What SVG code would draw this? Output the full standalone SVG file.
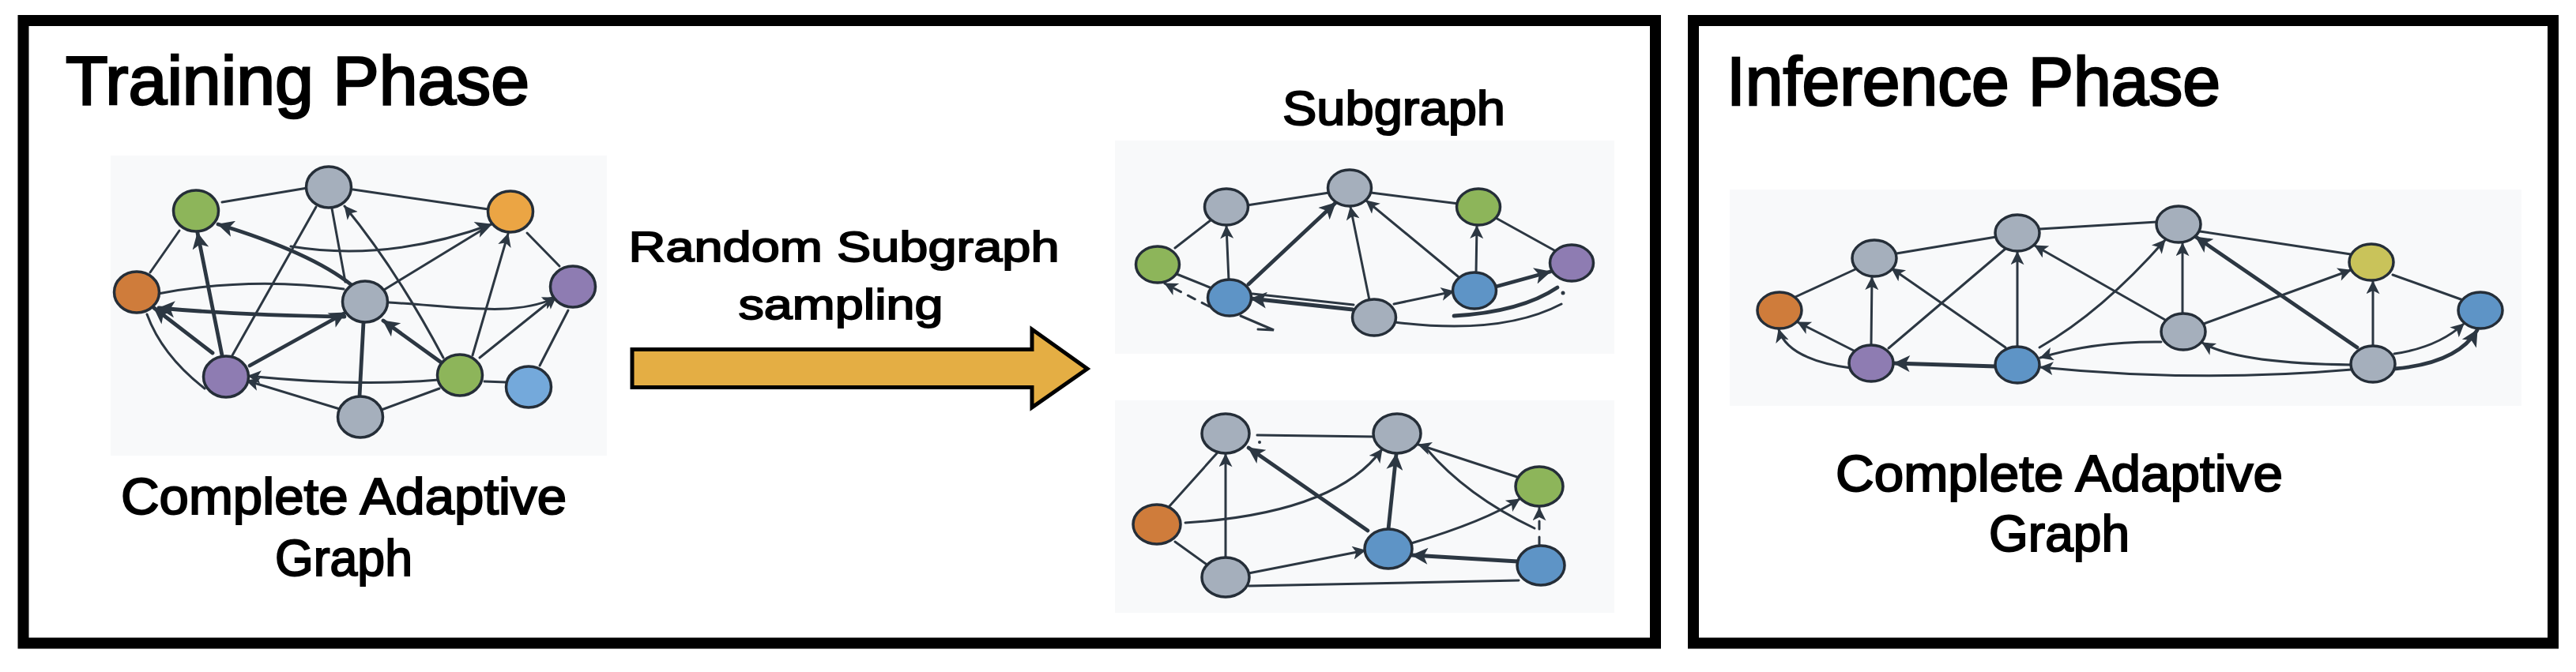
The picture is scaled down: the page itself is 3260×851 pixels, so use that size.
<svg xmlns="http://www.w3.org/2000/svg" width="3260" height="851" viewBox="0 0 3260 851">
<defs>
<style>
.frame{fill:#ffffff;stroke:#000000;stroke-width:14}
.bg{fill:#F8F9FA}
.n{stroke:#252E38;stroke-width:3.5}
.gray{fill:#A5AFBC}
.green{fill:#8DB55A}
.orange{fill:#EBA544}
.brown{fill:#CF7C3B}
.purple{fill:#8E7CB2}
.lblue{fill:#74A9DB}
.blue{fill:#5E94C6}
.yellow{fill:#C9C35A}
.e{fill:none;stroke:#2C3742;stroke-width:3;stroke-linecap:round}
.t{stroke-width:4.8}
.d{stroke-dasharray:10 10}
.a{marker-end:url(#ah)}
.A{marker-end:url(#ahL)}
.txt{font-family:"Liberation Sans",Arial,sans-serif;fill:#000;stroke:#000}
.h1{stroke-width:2.6}
.h2{stroke-width:2}
.h3{stroke-width:1.8}
</style>
<marker id="ah" viewBox="0 0 10 10" refX="9.5" refY="5" markerWidth="21" markerHeight="17" markerUnits="userSpaceOnUse" orient="auto"><path d="M0,0 L10,5 L0,10 L2.5,5 z" fill="#2C3742"/></marker>
<marker id="ahL" viewBox="0 0 10 10" refX="9.5" refY="5" markerWidth="26" markerHeight="21" markerUnits="userSpaceOnUse" orient="auto"><path d="M0,0 L10,5 L0,10 L2.5,5 z" fill="#2C3742"/></marker>
</defs>
<rect width="3260" height="851" fill="#ffffff"/>
<g id="training-frame"><rect class="frame" x="29.5" y="26" width="2065.5" height="788.5"/></g>
<g id="inference-frame"><rect class="frame" x="2143" y="26" width="1088" height="788.5"/></g>

<g id="titles">
<text class="txt h1" x="83" y="132" font-size="88" textLength="587" lengthAdjust="spacingAndGlyphs">Training Phase</text>
<text class="txt h1" x="2185" y="133" font-size="88" textLength="625" lengthAdjust="spacingAndGlyphs">Inference Phase</text>
</g>

<g id="panels">
<rect class="bg" x="140" y="197" width="628" height="380"/>
<rect class="bg" x="1411" y="178" width="632" height="270"/>
<rect class="bg" x="1411" y="507" width="632" height="269"/>
<rect class="bg" x="2189" y="240" width="1002" height="274"/>
</g>

<g id="sampling-arrow">
<polygon points="800,442.5 1306,442.5 1306,417 1376,467 1306,516 1306,490.5 800,490.5" fill="#E4AE44" stroke="#000" stroke-width="5" stroke-linejoin="miter"/>
<text class="txt h3" x="1068" y="331" font-size="53" text-anchor="middle" textLength="545" lengthAdjust="spacingAndGlyphs">Random Subgraph</text>
<text class="txt h3" x="1064" y="404" font-size="53" text-anchor="middle" textLength="259" lengthAdjust="spacingAndGlyphs">sampling</text>
</g>

<g id="labels">
<text class="txt h2" x="1764" y="158" font-size="61" text-anchor="middle" textLength="282" lengthAdjust="spacingAndGlyphs">Subgraph</text>
<text class="txt h2" x="435" y="651" font-size="64" text-anchor="middle" textLength="564" lengthAdjust="spacingAndGlyphs">Complete Adaptive</text>
<text class="txt h2" x="435" y="729" font-size="64" text-anchor="middle" textLength="174" lengthAdjust="spacingAndGlyphs">Graph</text>
<text class="txt h2" x="2606" y="622" font-size="64" text-anchor="middle" textLength="566" lengthAdjust="spacingAndGlyphs">Complete Adaptive</text>
<text class="txt h2" x="2606" y="698" font-size="64" text-anchor="middle" textLength="178" lengthAdjust="spacingAndGlyphs">Graph</text>
</g>

<g id="connectors">
<!-- complete graph (training) -->
<path class="e" d="M281,256 L389,238"/>
<path class="e" d="M447,240 L618,265"/>
<path class="e" d="M227,292 L190,345"/>
<path class="e" d="M667,295 L708,337"/>
<path class="e" d="M719,393 L683,463"/>
<path class="e" d="M186,398 Q205,450 259,492"/>
<path class="e" d="M613,483 L640,484"/>
<path class="e" d="M480,520 L556,492"/>
<path class="e a" d="M430,518 L312,482"/>
<path class="e a" d="M555,481 Q450,490 314,476"/>
<path class="e t" d="M455,502 L460,408"/>
<path class="e t A" d="M281,450 L250,295"/>
<path class="e t A" d="M269,447 L195,390"/>
<path class="e t A" d="M316,463 L437,396"/>
<path class="e" d="M294,450 L400,262"/>
<path class="e" d="M200,372 Q316,350 435,366"/>
<path class="e t A" d="M436,401 Q300,399 201,390"/>
<path class="e t A" d="M445,361 Q394,320 276,284"/>
<path class="e" d="M420,264 L437,357"/>
<path class="e A" d="M368,312 Q492,332 622,284"/>
<path class="e" d="M486,367 L612,290"/>
<path class="e a" d="M561,453 Q501,340 436,261"/>
<path class="e t A" d="M557,458 L485,406"/>
<path class="e a" d="M598,450 L643,296"/>
<path class="e a" d="M607,453 L704,375"/>
<path class="e a" d="M492,383 C580,388 650,402 703,377"/>

<!-- upper subgraph -->
<path class="e" d="M1578,260 L1682,244"/>
<path class="e" d="M1735,244 L1846,258"/>
<path class="e" d="M1532,279 L1487,314"/>
<path class="e" d="M1893,276 L1967,317"/>
<path class="e" d="M1489,347 L1531,364"/>
<path class="e a" d="M1555,355 L1552,286"/>
<path class="e t A" d="M1580,360 L1690,257"/>
<path class="e a" d="M1733,380 L1709,262"/>
<path class="e a" d="M1845,350 L1729,254"/>
<path class="e a" d="M1868,346 L1869,286"/>
<path class="e t A" d="M1712,392 L1583,378"/>
<path class="e" d="M1713,386 L1585,372"/>
<path class="e a" d="M1764,385 L1840,369"/>
<path class="e t A" d="M1893,363 L1962,344"/>
<path class="e d a" d="M1530,388 L1474,359"/>
<path class="e" d="M1570,400 L1612,418 L1592,417"/>
<path class="e" d="M1765,408 Q1900,425 1976,385"/>
<circle cx="1978" cy="371" r="2.5" fill="#2C3742"/>
<path class="e t" d="M1840,400 Q1925,395 1971,364"/>

<!-- lower subgraph -->
<path class="e" d="M1591,551 L1739,553"/>
<circle cx="1594" cy="560" r="2" fill="#2C3742"/>
<path class="e" d="M1540,574 L1480,641"/>
<path class="e" d="M1487,686 L1526,714"/>
<path class="e a" d="M1551,705 L1551,575"/>
<path class="e a" d="M1500,662 Q1690,650 1749,569"/>
<path class="e t A" d="M1731,672 L1580,567"/>
<path class="e t A" d="M1757,670 L1767,575"/>
<path class="e a" d="M1920,604 L1795,563"/>
<path class="e" d="M1942,669 Q1856,628 1805,568"/>
<path class="e d a" d="M1948,690 L1948,643"/>
<path class="e a" d="M1786,688 Q1880,660 1923,632"/>
<path class="e a" d="M1580,726 L1728,697"/>
<path class="e t A" d="M1921,711 L1787,703"/>
<path class="e" d="M1580,742 L1922,735"/>

<!-- inference graph -->
<path class="e" d="M2270,377 L2348,341"/>
<path class="e" d="M2400,321 L2526,300"/>
<path class="e" d="M2581,290 L2730,281"/>
<path class="e" d="M2784,293 L2975,322"/>
<path class="e" d="M3028,348 L3117,380"/>
<path class="e a" d="M2368,437 L2369,351"/>
<path class="e a" d="M2346,444 L2275,408"/>
<path class="e a" d="M2342,466 Q2262,455 2251,417"/>
<path class="e t A" d="M2526,464 L2397,460"/>
<path class="e a" d="M2538,440 L2394,340"/>
<path class="e" d="M2390,441 L2538,315"/>
<path class="e a" d="M2553,439 L2553,319"/>
<path class="e a" d="M2581,440 Q2660,395 2740,304"/>
<path class="e a" d="M2740,405 L2575,311"/>
<path class="e a" d="M2762,397 L2762,308"/>
<path class="e a" d="M2789,410 L2975,342"/>
<path class="e a" d="M2735,433 Q2650,432 2582,453"/>
<path class="e t A" d="M2983,440 L2779,300"/>
<path class="e a" d="M3003,438 L3003,356"/>
<path class="e a" d="M3030,448 Q3085,440 3118,410"/>
<path class="e t A" d="M3030,467 Q3110,460 3135,418"/>
<path class="e a" d="M2976,462 Q2830,460 2787,434"/>
<path class="e a" d="M2976,468 Q2780,485 2582,465"/>
</g>

<g id="training-graph-nodes">
<ellipse id="t1" class="n green" cx="248" cy="267" rx="28.5" ry="26"/>
<ellipse id="t2" class="n gray" cx="416" cy="237" rx="28.5" ry="26"/>
<ellipse id="t3" class="n orange" cx="646" cy="268" rx="28.5" ry="26"/>
<ellipse id="t4" class="n brown" cx="173" cy="370" rx="28.5" ry="26"/>
<ellipse id="t5" class="n gray" cx="462" cy="382" rx="28.5" ry="26"/>
<ellipse id="t6" class="n purple" cx="725" cy="363" rx="28.5" ry="26"/>
<ellipse id="t7" class="n purple" cx="286" cy="477" rx="28.5" ry="26"/>
<ellipse id="t8" class="n green" cx="582" cy="475" rx="28.5" ry="26"/>
<ellipse id="t9" class="n lblue" cx="669" cy="490" rx="28.5" ry="26"/>
<ellipse id="t10" class="n gray" cx="456" cy="528" rx="28.5" ry="26"/>
</g>

<g id="subgraph1-nodes">
<ellipse id="s1a" class="n gray" cx="1552" cy="262" rx="27.5" ry="23"/>
<ellipse id="s1b" class="n gray" cx="1708" cy="238" rx="27.5" ry="23"/>
<ellipse id="s1c" class="n green" cx="1871" cy="262" rx="27.5" ry="23"/>
<ellipse id="s1d" class="n green" cx="1465" cy="335" rx="27.5" ry="23"/>
<ellipse id="s1e" class="n blue" cx="1556" cy="377" rx="27.5" ry="23"/>
<ellipse id="s1f" class="n gray" cx="1739" cy="402" rx="27.5" ry="23"/>
<ellipse id="s1g" class="n blue" cx="1866" cy="368" rx="27.5" ry="23"/>
<ellipse id="s1h" class="n purple" cx="1989" cy="333" rx="27.5" ry="23"/>
</g>

<g id="subgraph2-nodes">
<ellipse id="s2i" class="n gray" cx="1551" cy="549" rx="30" ry="25"/>
<ellipse id="s2j" class="n gray" cx="1768" cy="549" rx="30" ry="25"/>
<ellipse id="s2k" class="n green" cx="1948" cy="616" rx="30" ry="25"/>
<ellipse id="s2l" class="n brown" cx="1464" cy="664" rx="30" ry="25"/>
<ellipse id="s2m" class="n blue" cx="1757" cy="695" rx="30" ry="25"/>
<ellipse id="s2n" class="n blue" cx="1950" cy="716" rx="30" ry="25"/>
<ellipse id="s2o" class="n gray" cx="1551" cy="731" rx="30" ry="25"/>
</g>

<g id="inference-graph-nodes">
<ellipse id="ip" class="n brown" cx="2252" cy="393" rx="28" ry="23"/>
<ellipse id="iq" class="n gray" cx="2372" cy="327" rx="28" ry="23"/>
<ellipse id="ir" class="n gray" cx="2553" cy="295" rx="28" ry="23"/>
<ellipse id="is" class="n gray" cx="2757" cy="284" rx="28" ry="23"/>
<ellipse id="it" class="n yellow" cx="3001" cy="332" rx="28" ry="23"/>
<ellipse id="iu" class="n blue" cx="3139" cy="393" rx="28" ry="23"/>
<ellipse id="iv" class="n purple" cx="2368" cy="460" rx="28" ry="23"/>
<ellipse id="iw" class="n blue" cx="2553" cy="462" rx="28" ry="23"/>
<ellipse id="ix" class="n gray" cx="2763" cy="420" rx="28" ry="23"/>
<ellipse id="iy" class="n gray" cx="3003" cy="461" rx="28" ry="23"/>
</g>
</svg>
